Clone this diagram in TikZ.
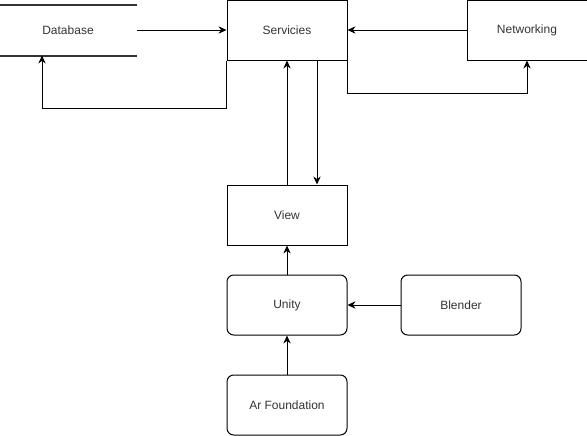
\documentclass[tikz,border=0pt]{standalone}
\usepackage{fontspec}
\setmainfont{Liberation Sans}
\usetikzlibrary{arrows.meta}

\tikzset{
  box/.style={draw, line width=0.75pt, minimum width=90pt, minimum height=45pt,
    inner sep=0pt, font=\fontsize{9}{11}\selectfont, text=black!80},
  rbox/.style={box, rounded corners=5pt},
  dbline/.style={line width=1.5pt, black!80},
  conn/.style={-{Stealth[length=6pt,width=5.5pt]}, line width=0.75pt}
}

\begin{document}
\begin{tikzpicture}[x=0.75pt,y=-0.75pt]

  \useasboundingbox (0,0) rectangle (587,436);

  % store and boxes
  \node[box, draw=none, minimum width=102pt, minimum height=37.5pt] (db) at (68,30) {Database};
  \draw[dbline] (db.north west) -- (db.north east);
  \draw[dbline] (db.south west) -- (db.south east);

  \node[box] (srv) at (287,30) {Servicies};
  \node[box] (net) at (527,30) {Networking};
  \node[box] (view) at (287,215) {View};

  \node[rbox] (unity) at (287,305) {Unity};
  \node[rbox] (blender) at (461,305) {Blender};
  \node[rbox] (ar) at (287,405) {Ar Foundation};

  % connectors
  \draw[conn] (db.east) -- (srv.west);
  \draw[conn] (net.west) -- (srv.east);
  \draw[conn] (srv.south west) -- ++(0,48) -| ([shift={(-26,0)}]db.south);
  \draw[conn] (srv.south east) -- ++(0,33) -| (net.south);

  \draw[conn] (view.north) -- (srv.south);
  \draw[conn] ([shift={(30,0)}]srv.south) -- ([shift={(30,0)}]view.north);

  \draw[conn] (unity) -- (view);
  \draw[conn] (blender) -- (unity);
  \draw[conn] (ar) -- (unity);

\end{tikzpicture}
\end{document}
